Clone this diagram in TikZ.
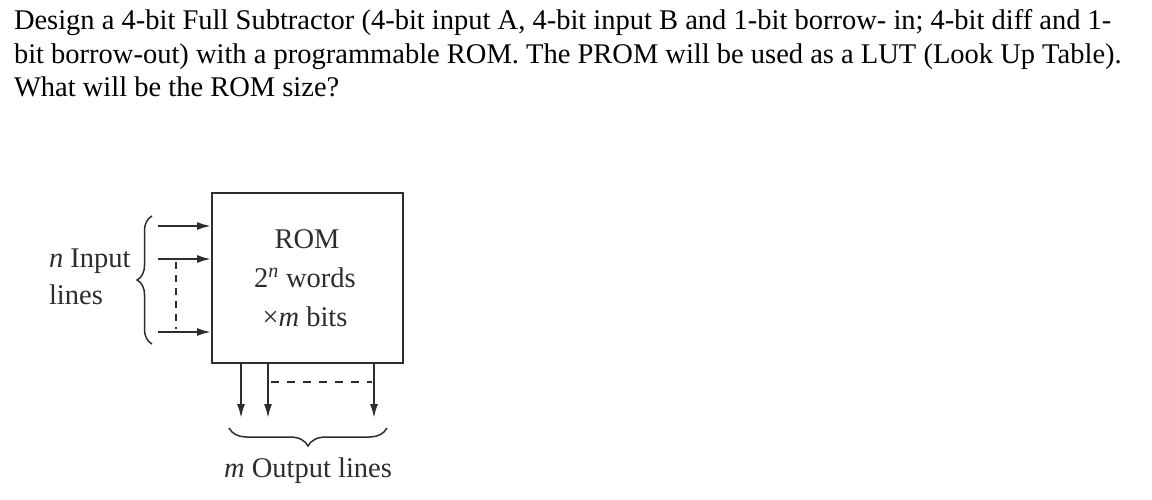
\documentclass[tikz,border=0pt]{standalone}
\usepackage{fontspec}
\setmainfont{Liberation Serif}
\usetikzlibrary{calc}
\usetikzlibrary{positioning}
\usetikzlibrary{arrows.meta}
\usetikzlibrary{decorations.pathreplacing}
\definecolor{inkGray}{RGB}{45,45,45}
\tikzset{question/.style={anchor=base west, inner sep=0pt, font=\fontsize{28.5}{33}\selectfont}}
\tikzset{label text/.style={inner sep=0pt, text=inkGray, font=\fontsize{28.5}{33}\selectfont}}

\begin{document}
\begin{tikzpicture}[>={Latex[length=14pt,width=8pt]}, line width=2pt, x=1pt, y=-1pt]
		\def\inX{158}
		\def\outY{418}
		\def\dashX{176}
		\def\dashY{382}

		\useasboundingbox (0,0) rectangle (1152,500);

		\node[question] (q1) at (13,30) {Design a 4-bit Full Subtractor (4-bit input A, 4-bit input B and 1-bit borrow- in; 4-bit diff and 1-};
		\node[question] (q2) at (13,63.5) {bit borrow-out) with a programmable ROM. The PROM will be used as a LUT (Look Up Table).};
		\node[question] (q3) at (13,97) {What will be the ROM size?};

		\node[draw=inkGray, minimum width=191, minimum height=170, inner sep=0pt] (rom) at (307.5,278) {};
			\node[label text, anchor=base] (romT) at (307,248) {ROM};
			\node[label text, anchor=base] (romW) at (305,287) {2\textsuperscript{\textit{n}} words};
			\node[label text, anchor=base] (romB) at (305,326) {×\textit{m} bits};

		\coordinate (in1) at (\inX,226);
		\coordinate (in2) at (\inX,259);
		\coordinate (in3) at (\inX,332);
			\draw[inkGray, ->] (in1) -- (in1 -| rom.west);
			\draw[inkGray, ->] (in2) -- (in2 -| rom.west);
			\draw[inkGray, ->] (in3) -- (in3 -| rom.west);
			\draw[inkGray, line width=1.6pt, dash pattern=on 7pt off 6pt] (\dashX,262) -- (\dashX,329);

		\coordinate (out1) at (241,\outY);
		\coordinate (out2) at (268,\outY);
		\coordinate (out3) at (374,\outY);
			\draw[inkGray, ->] (out1 |- rom.south) -- (out1);
			\draw[inkGray, ->] (out2 |- rom.south) -- (out2);
			\draw[inkGray, ->] (out3 |- rom.south) -- (out3);
			\draw[inkGray, line width=1.6pt, dash pattern=on 8pt off 8pt] (271,\dashY) -- (372,\dashY);

		\draw[inkGray, line width=1.5pt, decorate, decoration={brace, amplitude=15}] (152,344) -- (152,216);
		\node[label text, anchor=base west] (inLabel) at (48,267) {\textit{n} Input};
		\node[label text, anchor=base west] (inLines) at (48,304) {lines};

		\draw[inkGray, line width=1.5pt, decorate, decoration={brace, amplitude=18}] (387,428) -- (229,428);
		\node[label text, anchor=base] (outLabel) at (308,477) {\textit{m} Output lines};
	\end{tikzpicture}
\end{document}
